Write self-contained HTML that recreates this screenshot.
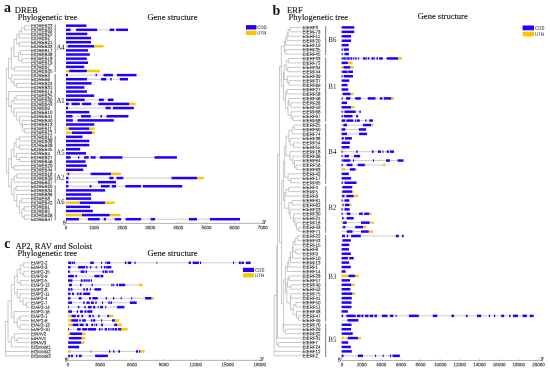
<!DOCTYPE html>
<html><head><meta charset="utf-8"><title>Figure</title><style>
html,body{margin:0;padding:0;background:#fff;}
svg{display:block;}
.ser text{font-family:"Liberation Serif",serif;fill:#111;}
.big{font-weight:bold;font-size:14px;}
.tt{font-size:8.55px;stroke:#111;stroke-width:0.12;}
.cl{font-size:7.2px;fill:#222;text-rendering:geometricPrecision;}
.lab text{font-family:"Liberation Sans",sans-serif;font-size:4.4px;fill:#151515;stroke:#151515;stroke-width:0.08;text-rendering:geometricPrecision;}
.tk text{font-family:"Liberation Sans",sans-serif;font-size:4.5px;fill:#222;stroke:#222;stroke-width:0.08;text-anchor:middle;text-rendering:geometricPrecision;}
.pr{font-family:"Liberation Sans",sans-serif;font-size:5px;fill:#111;stroke:#111;stroke-width:0.12;text-rendering:geometricPrecision;}
.lg{font-family:"Liberation Sans",sans-serif;font-size:4.4px;fill:#333;stroke:#333;stroke-width:0.06;text-rendering:geometricPrecision;}
.b{fill:#2200ff;}
.y{fill:#ffc400;}
.f{fill:#8f80ff;}
.g{stroke:#a8a8a8;stroke-width:0.6;}
.t{stroke:#9a9a9a;stroke-width:0.55;fill:none;}
.cb{stroke:#6a6a6a;stroke-width:0.9;fill:none;}
.ax{stroke:#999;stroke-width:0.75;fill:none;}
</style></head>
<body><svg width="550" height="372" viewBox="0 0 550 372">
<rect width="550" height="372" fill="#fff"/>
<g class="ser">
<text x="4" y="11.7" class="big">a</text><text x="14.8" y="12.8" class="tt">DREB</text>
<text x="17.7" y="19.8" class="tt">Phylogenetic tree</text>
<text x="147.4" y="19.6" class="tt">Gene structure</text>
<text x="272.5" y="15.2" class="big">b</text><text x="287" y="12.9" class="tt">ERF</text>
<text x="288.6" y="19.6" class="tt">Phylogenetic tree</text>
<text x="417.7" y="18.6" class="tt">Gene structure</text>
<text x="4.2" y="247.8" class="big">c</text><text x="15.4" y="248.7" class="tt">AP2, RAV and Soloist</text>
<text x="17.6" y="255.7" class="tt">Phylogenetic tree</text>
<text x="147.6" y="255.5" class="tt">Gene structure</text>
<text transform="translate(56.5 49.6) scale(1 1.12) rotate(0.3)" class="cl" style="font-size:6.7px">A4</text>
<text transform="translate(56.5 103) scale(1 1.12) rotate(0.3)" class="cl" style="font-size:6.7px">A1</text>
<text transform="translate(56.3 154.6) scale(1 1.12) rotate(0.3)" class="cl" style="font-size:6.7px">A5</text>
<text transform="translate(56.3 179.7) scale(1 1.12) rotate(0.3)" class="cl" style="font-size:6.7px">A2</text>
<text transform="translate(56.3 204) scale(1 1.12) rotate(0.3)" class="cl" style="font-size:6.7px">A6</text>
<text transform="translate(328.3 42) scale(1 1.12) rotate(0.3)" class="cl" style="font-size:6.9px">B6</text>
<text transform="translate(328.3 88.7) scale(1 1.12) rotate(0.3)" class="cl" style="font-size:6.9px">B1</text>
<text transform="translate(328.3 154) scale(1 1.12) rotate(0.3)" class="cl" style="font-size:6.9px">B4</text>
<text transform="translate(328.3 209.8) scale(1 1.12) rotate(0.3)" class="cl" style="font-size:6.9px">B2</text>
<text transform="translate(328.3 278.8) scale(1 1.12) rotate(0.3)" class="cl" style="font-size:6.9px">B3</text>
<text transform="translate(328.3 341.8) scale(1 1.12) rotate(0.3)" class="cl" style="font-size:6.9px">B5</text>
</g>
<path d="M55.2 24.5V72.19 M55.2 73.9V133.94 M55.2 135.66V170.99 M55.2 172.71V183.35 M55.2 185.06V220.4 M325.7 26.2V55.23 M325.7 57.27V121.8 M325.7 123.84V183.93 M325.7 185.97V232.75 M325.7 234.79V321.51 M325.7 323.55V357.01" class="cb"/>
<path d="M24.5 25.7H30.2 M24.5 29.82H30.2 M24.5 25.7V29.82 M21.5 27.76H24.5 M21.5 33.93H30.2 M21.5 27.76V33.93 M19.1 30.85H21.5 M19.1 38.05H30.2 M19.1 30.85V38.05 M16.7 34.45H19.1 M19.4 42.17H30.2 M19.4 46.28H30.2 M19.4 42.17V46.28 M16.7 44.23H19.4 M16.7 34.45V44.23 M14 39.34H16.7 M20.5 50.4H30.2 M20.5 54.52H30.2 M20.5 50.4V54.52 M18.5 52.46H20.5 M22 58.64H30.2 M22 62.75H30.2 M22 58.64V62.75 M18.5 60.69H22 M18.5 52.46V60.69 M14 56.58H18.5 M14 39.34V56.58 M11.3 47.96H14 M14.5 66.87H30.2 M14.5 70.99H30.2 M14.5 66.87V70.99 M11.3 68.93H14.5 M11.3 47.96V68.93 M8.6 58.44H11.3 M11.3 75.1H30.2 M14 79.22H30.2 M16.7 83.34H30.2 M16.7 87.45H30.2 M16.7 83.34V87.45 M14 85.4H16.7 M14 79.22V85.4 M11.3 82.31H14 M11.3 75.1V82.31 M8.6 78.71H11.3 M8.6 58.44V78.71 M6.45 68.57H8.6 M8.6 91.57H30.2 M16.1 95.69H30.2 M16.1 99.81H30.2 M16.1 95.69V99.81 M14 97.75H16.1 M14 103.92H30.2 M14 97.75V103.92 M11.3 100.84H14 M14 108.04H30.2 M16.7 112.16H30.2 M19.4 116.27H30.2 M22 120.39H30.2 M22.6 124.51H30.2 M24.7 128.62H30.2 M24.7 132.74H30.2 M24.7 128.62V132.74 M22.6 130.68H24.7 M22.6 124.51V130.68 M22 127.6H22.6 M22 120.39V127.6 M19.4 123.99H22 M19.4 116.27V123.99 M16.7 120.13H19.4 M16.7 112.16V120.13 M14 116.15H16.7 M14 108.04V116.15 M11.3 112.09H14 M11.3 100.84V112.09 M8.6 106.46H11.3 M8.6 91.57V106.46 M6.45 99.02H8.6 M19.4 136.86H30.2 M19.4 140.98H30.2 M19.4 136.86V140.98 M16.1 138.92H19.4 M19.4 145.09H30.2 M19.4 149.21H30.2 M19.4 145.09V149.21 M16.1 147.15H19.4 M16.1 138.92V147.15 M14 143.03H16.1 M16.7 153.33H30.2 M19.4 157.44H30.2 M19.4 161.56H30.2 M19.4 157.44V161.56 M16.7 159.5H19.4 M16.7 153.33V159.5 M14 156.41H16.7 M14 143.03V156.41 M11.3 149.72H14 M14 165.68H30.2 M14 169.79H30.2 M14 165.68V169.79 M11.3 167.74H14 M11.3 149.72V167.74 M8.6 158.73H11.3 M16.7 173.91H30.2 M16.7 178.03H30.2 M16.7 173.91V178.03 M14 175.97H16.7 M14 182.15H30.2 M14 175.97V182.15 M11.3 179.06H14 M16.1 186.26H30.2 M16.1 190.38H30.2 M16.1 186.26V190.38 M14 188.32H16.1 M16.7 194.5H30.2 M21.5 198.61H30.2 M21.5 202.73H30.2 M21.5 198.61V202.73 M19.4 200.67H21.5 M24.2 206.85H30.2 M24.2 210.96H30.2 M24.2 206.85V210.96 M22 208.91H24.2 M24.2 215.08H30.2 M24.2 219.2H30.2 M24.2 215.08V219.2 M22 217.14H24.2 M22 208.91V217.14 M19.4 213.02H22 M19.4 200.67V213.02 M16.7 206.85H19.4 M16.7 194.5V206.85 M14 200.67H16.7 M14 188.32V200.67 M11.3 194.5H14 M11.3 179.06V194.5 M8.6 186.78H11.3 M8.6 158.73V186.78 M6.45 172.75H8.6 M6.45 68.57V172.75" class="t"/>
<path d="M290.3 27.4H301.3 M290.3 31.84H301.3 M290.3 27.4V31.84 M288.1 29.62H290.3 M288.1 36.28H301.3 M288.1 29.62V36.28 M287.1 32.95H288.1 M287.1 40.71H301.3 M287.1 32.95V40.71 M285.4 36.83H287.1 M285.4 45.15H301.3 M285.4 36.83V45.15 M284.4 40.99H285.4 M285.4 49.59H301.3 M285.4 54.03H301.3 M285.4 49.59V54.03 M284.4 51.81H285.4 M284.4 40.99V51.81 M281.3 46.4H284.4 M288.4 58.47H301.3 M288.4 62.9H301.3 M288.4 58.47V62.9 M286.2 60.68H288.4 M287.8 67.34H301.3 M287.8 71.78H301.3 M287.8 67.34V71.78 M286.2 69.56H287.8 M286.2 60.68V69.56 M284.1 65.12H286.2 M287.3 76.22H301.3 M288.9 80.66H301.3 M288.9 85.09H301.3 M288.9 80.66V85.09 M287.3 82.88H288.9 M287.3 76.22V82.88 M284.1 79.55H287.3 M284.1 65.12V79.55 M283.5 72.33H284.1 M286.8 89.53H301.3 M286.8 93.97H301.3 M286.8 89.53V93.97 M285.5 91.75H286.8 M288.9 98.41H301.3 M291 102.85H301.3 M291 107.28H301.3 M291 102.85V107.28 M288.9 105.06H291 M288.9 98.41V105.06 M288 101.74H288.9 M291 111.72H301.3 M292.7 116.16H301.3 M292.7 120.6H301.3 M292.7 116.16V120.6 M291 118.38H292.7 M291 111.72V118.38 M288 115.05H291 M288 101.74V115.05 M285.5 108.39H288 M285.5 91.75V108.39 M283.5 100.07H285.5 M283.5 72.33V100.07 M281.3 86.2H283.5 M281.3 46.4V86.2 M279.5 66.3H281.3 M294.3 125.04H301.3 M294.3 129.47H301.3 M294.3 125.04V129.47 M292.2 127.25H294.3 M292.2 133.91H301.3 M292.2 127.25V133.91 M288.8 130.58H292.2 M290 138.35H301.3 M293.5 142.79H301.3 M293.5 147.23H301.3 M293.5 142.79V147.23 M290 145.01H293.5 M290 138.35V145.01 M288.8 141.68H290 M288.8 130.58V141.68 M286.1 136.13H288.8 M290.1 151.66H301.3 M292.8 156.1H301.3 M294.5 160.54H301.3 M296 164.98H301.3 M296 169.42H301.3 M296 164.98V169.42 M294.5 167.2H296 M294.5 160.54V167.2 M292.8 163.87H294.5 M292.8 156.1V163.87 M290.1 159.99H292.8 M290.1 151.66V159.99 M286.1 155.82H290.1 M286.1 136.13V155.82 M284.7 145.98H286.1 M288.1 173.85H301.3 M290.8 178.29H301.3 M290.8 182.73H301.3 M290.8 178.29V182.73 M288.1 180.51H290.8 M288.1 173.85V180.51 M284.7 177.18H288.1 M284.7 145.98V177.18 M283.4 161.58H284.7 M288.8 187.17H301.3 M288.8 191.61H301.3 M288.8 187.17V191.61 M286 189.39H288.8 M286 196.04H301.3 M286 189.39V196.04 M284.7 192.72H286 M292.1 200.48H301.3 M292.1 204.92H301.3 M292.1 200.48V204.92 M288.8 202.7H292.1 M290.1 209.36H301.3 M293.5 213.8H301.3 M295 218.23H301.3 M296.5 222.67H301.3 M299 227.11H301.3 M299 231.55H301.3 M299 227.11V231.55 M296.5 229.33H299 M296.5 222.67V229.33 M295 226H296.5 M295 218.23V226 M293.5 222.12H295 M293.5 213.8V222.12 M290.1 217.96H293.5 M290.1 209.36V217.96 M288.8 213.66H290.1 M288.8 202.7V213.66 M284.7 208.18H288.8 M284.7 192.72V208.18 M283.4 200.45H284.7 M283.4 161.58V200.45 M281.6 181.01H283.4 M297.4 235.99H301.3 M297.4 240.42H301.3 M297.4 235.99V240.42 M295 238.2H297.4 M295 244.86H301.3 M295 238.2V244.86 M293 241.53H295 M295.8 249.3H301.3 M295.8 253.74H301.3 M295.8 249.3V253.74 M293 251.52H295.8 M293 241.53V251.52 M292.5 246.53H293 M292.5 258.18H301.3 M292.5 246.53V258.18 M290.5 252.35H292.5 M290.5 262.61H301.3 M290.5 252.35V262.61 M288.9 257.48H290.5 M288.9 267.05H301.3 M288.9 257.48V267.05 M287.3 262.27H288.9 M287.3 271.49H301.3 M287.3 262.27V271.49 M285.5 266.88H287.3 M288.9 275.93H301.3 M288.9 280.37H301.3 M288.9 275.93V280.37 M287.7 278.15H288.9 M291 284.8H301.3 M291 289.24H301.3 M291 284.8V289.24 M287.7 287.02H291 M287.7 278.15V287.02 M286.8 282.58H287.7 M291 293.68H301.3 M291 298.12H301.3 M291 293.68V298.12 M290.5 295.9H291 M295.9 302.56H301.3 M295.9 306.99H301.3 M295.9 302.56V306.99 M293.2 304.77H295.9 M296.5 311.43H301.3 M298.6 315.87H301.3 M298.6 320.31H301.3 M298.6 315.87V320.31 M296.5 318.09H298.6 M296.5 311.43V318.09 M293.2 314.76H296.5 M293.2 304.77V314.76 M290.5 309.77H293.2 M290.5 295.9V309.77 M286.8 302.83H290.5 M286.8 282.58V302.83 M285.5 292.71H286.8 M285.5 266.88V292.71 M283.6 279.79H285.5 M283.2 324.75H301.3 M285.4 329.18H301.3 M285.4 333.62H301.3 M285.4 329.18V333.62 M283.2 331.4H285.4 M283.2 324.75V331.4 M283.6 328.07H283.2 M283.6 279.79V328.07 M281.6 303.93H283.6 M281.6 181.01V303.93 M279.5 242.47H281.6 M279.5 66.3V242.47 M277.5 154.39H279.5 M277.5 338.06H301.3 M277.5 154.39V338.06 M276.4 246.22H277.5 M278.4 342.5H301.3 M278.4 346.94H301.3 M278.4 342.5V346.94 M276.4 344.72H278.4 M276.4 246.22V344.72 M274.1 295.47H276.4 M274.1 351.37H301.3 M274.1 355.81H301.3 M274.1 295.47V355.81" class="t"/>
<path d="M23.7 262.8H29.6 M23.7 267.23H29.6 M23.7 262.8V267.23 M20.4 265.02H23.7 M23.7 271.67H29.6 M23.7 276.1H29.6 M23.7 271.67V276.1 M20.4 273.88H23.7 M20.4 265.02V273.88 M17.2 269.45H20.4 M20.4 280.53H29.6 M20.4 284.97H29.6 M20.4 280.53V284.97 M17.2 282.75H20.4 M17.2 269.45V282.75 M14.5 276.1H17.2 M17.2 289.4H29.6 M19.9 293.83H29.6 M23.1 298.26H29.6 M26.3 302.7H29.6 M26.3 307.13H29.6 M26.3 302.7V307.13 M23.1 304.91H26.3 M23.1 298.26V304.91 M19.9 301.59H23.1 M19.9 293.83V301.59 M17.2 297.71H19.9 M17.2 289.4V297.71 M14.5 293.55H17.2 M14.5 276.1V293.55 M11.3 284.83H14.5 M14 311.56H29.6 M19.9 316H29.6 M19.9 320.43H29.6 M19.9 316V320.43 M17.2 318.21H19.9 M19.9 324.86H29.6 M19.9 329.3H29.6 M19.9 324.86V329.3 M17.2 327.08H19.9 M17.2 318.21V327.08 M14 322.65H17.2 M14 311.56V322.65 M11.3 317.1H14 M11.3 284.83V317.1 M8 300.97H11.3 M14.5 333.73H29.6 M17.2 338.16H29.6 M17.2 342.59H29.6 M17.2 338.16V342.59 M14.5 340.38H17.2 M14.5 333.73V340.38 M11.3 337.05H14.5 M11.3 347.03H29.6 M11.3 337.05V347.03 M8 342.04H11.3 M8 300.97V342.04 M5.4 321.5H8 M5.4 351.46H29.6 M5.4 355.89H29.6 M5.4 321.5V355.89" class="t"/>
<g class="lab">
<text transform="translate(31.1 27.43) scale(1 1.1) rotate(0.3)">EtDREB23</text>
<text transform="translate(31.1 31.55) scale(1 1.1) rotate(0.3)">EtDREB32</text>
<text transform="translate(31.1 35.67) scale(1 1.1) rotate(0.3)">EtDREB22</text>
<text transform="translate(31.1 39.78) scale(1 1.1) rotate(0.3)">EtDREB2</text>
<text transform="translate(31.1 43.9) scale(1 1.1) rotate(0.3)">EtDREB21</text>
<text transform="translate(31.1 48.02) scale(1 1.1) rotate(0.3)">EtDREB33</text>
<text transform="translate(31.1 52.13) scale(1 1.1) rotate(0.3)">EtDREB17</text>
<text transform="translate(31.1 56.25) scale(1 1.1) rotate(0.3)">EtDREB48</text>
<text transform="translate(31.1 60.37) scale(1 1.1) rotate(0.3)">EtDREB18</text>
<text transform="translate(31.1 64.49) scale(1 1.1) rotate(0.3)">EtDREB19</text>
<text transform="translate(31.1 68.6) scale(1 1.1) rotate(0.3)">EtDREB7</text>
<text transform="translate(31.1 72.72) scale(1 1.1) rotate(0.3)">EtDREB35</text>
<text transform="translate(31.1 76.84) scale(1 1.1) rotate(0.3)">EtDREB3</text>
<text transform="translate(31.1 80.95) scale(1 1.1) rotate(0.3)">EtDREB6</text>
<text transform="translate(31.1 85.07) scale(1 1.1) rotate(0.3)">EtDREB24</text>
<text transform="translate(31.1 89.19) scale(1 1.1) rotate(0.3)">EtDREB31</text>
<text transform="translate(31.1 93.3) scale(1 1.1) rotate(0.3)">EtDREB14</text>
<text transform="translate(31.1 97.42) scale(1 1.1) rotate(0.3)">EtDREB25</text>
<text transform="translate(31.1 101.54) scale(1 1.1) rotate(0.3)">EtDREB30</text>
<text transform="translate(31.1 105.66) scale(1 1.1) rotate(0.3)">EtDREB43</text>
<text transform="translate(31.1 109.77) scale(1 1.1) rotate(0.3)">EtDREB9</text>
<text transform="translate(31.1 113.89) scale(1 1.1) rotate(0.3)">EtDREB10</text>
<text transform="translate(31.1 118.01) scale(1 1.1) rotate(0.3)">EtDREB41</text>
<text transform="translate(31.1 122.12) scale(1 1.1) rotate(0.3)">EtDREB40</text>
<text transform="translate(31.1 126.24) scale(1 1.1) rotate(0.3)">EtDREB13</text>
<text transform="translate(31.1 130.36) scale(1 1.1) rotate(0.3)">EtDREB11</text>
<text transform="translate(31.1 134.47) scale(1 1.1) rotate(0.3)">EtDREB12</text>
<text transform="translate(31.1 138.59) scale(1 1.1) rotate(0.3)">EtDREB15</text>
<text transform="translate(31.1 142.71) scale(1 1.1) rotate(0.3)">EtDREB38</text>
<text transform="translate(31.1 146.83) scale(1 1.1) rotate(0.3)">EtDREB28</text>
<text transform="translate(31.1 150.94) scale(1 1.1) rotate(0.3)">EtDREB45</text>
<text transform="translate(31.1 155.06) scale(1 1.1) rotate(0.3)">EtDREB4</text>
<text transform="translate(31.1 159.18) scale(1 1.1) rotate(0.3)">EtDREB27</text>
<text transform="translate(31.1 163.29) scale(1 1.1) rotate(0.3)">EtDREB46</text>
<text transform="translate(31.1 167.41) scale(1 1.1) rotate(0.3)">EtDREB29</text>
<text transform="translate(31.1 171.53) scale(1 1.1) rotate(0.3)">EtDREB44</text>
<text transform="translate(31.1 175.64) scale(1 1.1) rotate(0.3)">EtDREB16</text>
<text transform="translate(31.1 179.76) scale(1 1.1) rotate(0.3)">EtDREB39</text>
<text transform="translate(31.1 183.88) scale(1 1.1) rotate(0.3)">EtDREB37</text>
<text transform="translate(31.1 188) scale(1 1.1) rotate(0.3)">EtDREB20</text>
<text transform="translate(31.1 192.11) scale(1 1.1) rotate(0.3)">EtDREB34</text>
<text transform="translate(31.1 196.23) scale(1 1.1) rotate(0.3)">EtDREB36</text>
<text transform="translate(31.1 200.35) scale(1 1.1) rotate(0.3)">EtDREB8</text>
<text transform="translate(31.1 204.46) scale(1 1.1) rotate(0.3)">EtDREB42</text>
<text transform="translate(31.1 208.58) scale(1 1.1) rotate(0.3)">EtDREB1</text>
<text transform="translate(31.1 212.7) scale(1 1.1) rotate(0.3)">EtDREB5</text>
<text transform="translate(31.1 216.81) scale(1 1.1) rotate(0.3)">EtDREB26</text>
<text transform="translate(31.1 220.93) scale(1 1.1) rotate(0.3)">EtDREB47</text>
<text transform="translate(302.6 29.13) scale(1 1.1) rotate(0.3)">EtERF3</text>
<text transform="translate(302.6 33.57) scale(1 1.1) rotate(0.3)">EtERF73</text>
<text transform="translate(302.6 38.01) scale(1 1.1) rotate(0.3)">EtERF11</text>
<text transform="translate(302.6 42.45) scale(1 1.1) rotate(0.3)">EtERF20</text>
<text transform="translate(302.6 46.88) scale(1 1.1) rotate(0.3)">EtERF19</text>
<text transform="translate(302.6 51.32) scale(1 1.1) rotate(0.3)">EtERF35</text>
<text transform="translate(302.6 55.76) scale(1 1.1) rotate(0.3)">EtERF45</text>
<text transform="translate(302.6 60.2) scale(1 1.1) rotate(0.3)">EtERF33</text>
<text transform="translate(302.6 64.64) scale(1 1.1) rotate(0.3)">EtERF72</text>
<text transform="translate(302.6 69.07) scale(1 1.1) rotate(0.3)">EtERF34</text>
<text transform="translate(302.6 73.51) scale(1 1.1) rotate(0.3)">EtERF44</text>
<text transform="translate(302.6 77.95) scale(1 1.1) rotate(0.3)">EtERF39</text>
<text transform="translate(302.6 82.39) scale(1 1.1) rotate(0.3)">EtERF37</text>
<text transform="translate(302.6 86.83) scale(1 1.1) rotate(0.3)">EtERF69</text>
<text transform="translate(302.6 91.26) scale(1 1.1) rotate(0.3)">EtERF27</text>
<text transform="translate(302.6 95.7) scale(1 1.1) rotate(0.3)">EtERF58</text>
<text transform="translate(302.6 100.14) scale(1 1.1) rotate(0.3)">EtERF46</text>
<text transform="translate(302.6 104.58) scale(1 1.1) rotate(0.3)">EtERF26</text>
<text transform="translate(302.6 109.02) scale(1 1.1) rotate(0.3)">EtERF59</text>
<text transform="translate(302.6 113.45) scale(1 1.1) rotate(0.3)">EtERF66</text>
<text transform="translate(302.6 117.89) scale(1 1.1) rotate(0.3)">EtERF67</text>
<text transform="translate(302.6 122.33) scale(1 1.1) rotate(0.3)">EtERF68</text>
<text transform="translate(302.6 126.77) scale(1 1.1) rotate(0.3)">EtERF25</text>
<text transform="translate(302.6 131.21) scale(1 1.1) rotate(0.3)">EtERF60</text>
<text transform="translate(302.6 135.64) scale(1 1.1) rotate(0.3)">EtERF74</text>
<text transform="translate(302.6 140.08) scale(1 1.1) rotate(0.3)">EtERF38</text>
<text transform="translate(302.6 144.52) scale(1 1.1) rotate(0.3)">EtERF54</text>
<text transform="translate(302.6 148.96) scale(1 1.1) rotate(0.3)">EtERF55</text>
<text transform="translate(302.6 153.4) scale(1 1.1) rotate(0.3)">EtERF18</text>
<text transform="translate(302.6 157.83) scale(1 1.1) rotate(0.3)">EtERF36</text>
<text transform="translate(302.6 162.27) scale(1 1.1) rotate(0.3)">EtERF64</text>
<text transform="translate(302.6 166.71) scale(1 1.1) rotate(0.3)">EtERF56</text>
<text transform="translate(302.6 171.15) scale(1 1.1) rotate(0.3)">EtERF63</text>
<text transform="translate(302.6 175.59) scale(1 1.1) rotate(0.3)">EtERF42</text>
<text transform="translate(302.6 180.02) scale(1 1.1) rotate(0.3)">EtERF17</text>
<text transform="translate(302.6 184.46) scale(1 1.1) rotate(0.3)">EtERF65</text>
<text transform="translate(302.6 188.9) scale(1 1.1) rotate(0.3)">EtERF4</text>
<text transform="translate(302.6 193.34) scale(1 1.1) rotate(0.3)">EtERF5</text>
<text transform="translate(302.6 197.78) scale(1 1.1) rotate(0.3)">EtERF6</text>
<text transform="translate(302.6 202.21) scale(1 1.1) rotate(0.3)">EtERF61</text>
<text transform="translate(302.6 206.65) scale(1 1.1) rotate(0.3)">EtERF62</text>
<text transform="translate(302.6 211.09) scale(1 1.1) rotate(0.3)">EtERF23</text>
<text transform="translate(302.6 215.53) scale(1 1.1) rotate(0.3)">EtERF30</text>
<text transform="translate(302.6 219.97) scale(1 1.1) rotate(0.3)">EtERF21</text>
<text transform="translate(302.6 224.4) scale(1 1.1) rotate(0.3)">EtERF16</text>
<text transform="translate(302.6 228.84) scale(1 1.1) rotate(0.3)">EtERF43</text>
<text transform="translate(302.6 233.28) scale(1 1.1) rotate(0.3)">EtERF71</text>
<text transform="translate(302.6 237.72) scale(1 1.1) rotate(0.3)">EtERF22</text>
<text transform="translate(302.6 242.16) scale(1 1.1) rotate(0.3)">EtERF53</text>
<text transform="translate(302.6 246.59) scale(1 1.1) rotate(0.3)">EtERF15</text>
<text transform="translate(302.6 251.03) scale(1 1.1) rotate(0.3)">EtERF8</text>
<text transform="translate(302.6 255.47) scale(1 1.1) rotate(0.3)">EtERF9</text>
<text transform="translate(302.6 259.91) scale(1 1.1) rotate(0.3)">EtERF10</text>
<text transform="translate(302.6 264.35) scale(1 1.1) rotate(0.3)">EtERF13</text>
<text transform="translate(302.6 268.78) scale(1 1.1) rotate(0.3)">EtERF1</text>
<text transform="translate(302.6 273.22) scale(1 1.1) rotate(0.3)">EtERF14</text>
<text transform="translate(302.6 277.66) scale(1 1.1) rotate(0.3)">EtERF28</text>
<text transform="translate(302.6 282.1) scale(1 1.1) rotate(0.3)">EtERF57</text>
<text transform="translate(302.6 286.54) scale(1 1.1) rotate(0.3)">EtERF40</text>
<text transform="translate(302.6 290.97) scale(1 1.1) rotate(0.3)">EtERF52</text>
<text transform="translate(302.6 295.41) scale(1 1.1) rotate(0.3)">EtERF75</text>
<text transform="translate(302.6 299.85) scale(1 1.1) rotate(0.3)">EtERF41</text>
<text transform="translate(302.6 304.29) scale(1 1.1) rotate(0.3)">EtERF50</text>
<text transform="translate(302.6 308.73) scale(1 1.1) rotate(0.3)">EtERF51</text>
<text transform="translate(302.6 313.16) scale(1 1.1) rotate(0.3)">EtERF48</text>
<text transform="translate(302.6 317.6) scale(1 1.1) rotate(0.3)">EtERF47</text>
<text transform="translate(302.6 322.04) scale(1 1.1) rotate(0.3)">EtERF49</text>
<text transform="translate(302.6 326.48) scale(1 1.1) rotate(0.3)">EtERF70</text>
<text transform="translate(302.6 330.92) scale(1 1.1) rotate(0.3)">EtERF29</text>
<text transform="translate(302.6 335.35) scale(1 1.1) rotate(0.3)">EtERF32</text>
<text transform="translate(302.6 339.79) scale(1 1.1) rotate(0.3)">EtERF31</text>
<text transform="translate(302.6 344.23) scale(1 1.1) rotate(0.3)">EtERF7</text>
<text transform="translate(302.6 348.67) scale(1 1.1) rotate(0.3)">EtERF24</text>
<text transform="translate(302.6 353.11) scale(1 1.1) rotate(0.3)">EtERF12</text>
<text transform="translate(302.6 357.54) scale(1 1.1) rotate(0.3)">EtERF2</text>
<text transform="translate(31 264.53) scale(1 1.1) rotate(0.3)">EtAP2-2</text>
<text transform="translate(31 268.97) scale(1 1.1) rotate(0.3)">EtAP2-3</text>
<text transform="translate(31 273.4) scale(1 1.1) rotate(0.3)">EtAP2-15</text>
<text transform="translate(31 277.83) scale(1 1.1) rotate(0.3)">EtAP2-9</text>
<text transform="translate(31 282.26) scale(1 1.1) rotate(0.3)">EtAP2-5</text>
<text transform="translate(31 286.7) scale(1 1.1) rotate(0.3)">EtAP2-12</text>
<text transform="translate(31 291.13) scale(1 1.1) rotate(0.3)">EtAP2-8</text>
<text transform="translate(31 295.56) scale(1 1.1) rotate(0.3)">EtAP2-11</text>
<text transform="translate(31 300) scale(1 1.1) rotate(0.3)">EtAP2-4</text>
<text transform="translate(31 304.43) scale(1 1.1) rotate(0.3)">EtAP2-7</text>
<text transform="translate(31 308.86) scale(1 1.1) rotate(0.3)">EtAP2-14</text>
<text transform="translate(31 313.3) scale(1 1.1) rotate(0.3)">EtAP2-16</text>
<text transform="translate(31 317.73) scale(1 1.1) rotate(0.3)">EtAP2-1</text>
<text transform="translate(31 322.16) scale(1 1.1) rotate(0.3)">EtAP2-6</text>
<text transform="translate(31 326.59) scale(1 1.1) rotate(0.3)">EtAP2-13</text>
<text transform="translate(31 331.03) scale(1 1.1) rotate(0.3)">EtAP2-10</text>
<text transform="translate(31 335.46) scale(1 1.1) rotate(0.3)">EtRAV2</text>
<text transform="translate(31 339.89) scale(1 1.1) rotate(0.3)">EtRAV1</text>
<text transform="translate(31 344.33) scale(1 1.1) rotate(0.3)">EtRAV3</text>
<text transform="translate(31 348.76) scale(1 1.1) rotate(0.3)">EtSoloist1</text>
<text transform="translate(31 353.19) scale(1 1.1) rotate(0.3)">EtSoloist2</text>
<text transform="translate(31 357.63) scale(1 1.1) rotate(0.3)">EtSoloist3</text>
</g>
<rect x="66" y="24.45" width="20.5" height="2.5" class="b"/>
<line x1="66" y1="29.82" x2="128" y2="29.82" class="g"/>
<rect x="66" y="28.57" width="4.6" height="2.5" class="b"/>
<rect x="76.1" y="28.57" width="21.1" height="2.5" class="b"/>
<rect x="109.7" y="28.57" width="4.5" height="2.5" class="b"/>
<rect x="116.1" y="28.57" width="11.9" height="2.5" class="b"/>
<rect x="66" y="32.68" width="21.3" height="2.5" class="b"/>
<rect x="66" y="36.8" width="25" height="2.5" class="b"/>
<rect x="66" y="40.92" width="25" height="2.5" class="b"/>
<line x1="66" y1="46.28" x2="103.5" y2="46.28" class="g"/>
<rect x="66" y="45.03" width="1.7" height="2.5" class="y"/>
<rect x="67.7" y="45.03" width="26.5" height="2.5" class="b"/>
<rect x="94.2" y="45.03" width="9.3" height="2.5" class="y"/>
<rect x="66" y="49.15" width="22" height="2.5" class="b"/>
<rect x="66" y="53.27" width="23.8" height="2.5" class="b"/>
<rect x="66" y="57.39" width="20.9" height="2.5" class="b"/>
<rect x="66" y="61.5" width="22" height="2.5" class="b"/>
<rect x="66" y="65.62" width="18.2" height="2.5" class="b"/>
<line x1="66" y1="70.99" x2="100.2" y2="70.99" class="g"/>
<rect x="66" y="69.74" width="3.3" height="2.5" class="y"/>
<rect x="69.3" y="69.74" width="17.6" height="2.5" class="b"/>
<rect x="86.9" y="69.74" width="13.3" height="2.5" class="y"/>
<line x1="66" y1="75.1" x2="136.5" y2="75.1" class="g"/>
<rect x="66" y="73.85" width="2" height="2.5" class="b"/>
<rect x="95.6" y="73.85" width="1.3" height="2.5" class="b"/>
<rect x="103.5" y="73.85" width="9.4" height="2.5" class="b"/>
<rect x="116.9" y="73.85" width="19.6" height="2.5" class="b"/>
<line x1="66" y1="79.22" x2="128" y2="79.22" class="g"/>
<rect x="66" y="77.97" width="20.9" height="2.5" class="b"/>
<rect x="101.1" y="77.97" width="5.1" height="2.5" class="b"/>
<rect x="110.2" y="77.97" width="1.4" height="2.5" class="b"/>
<rect x="119.8" y="77.97" width="8.2" height="2.5" class="b"/>
<rect x="66" y="82.09" width="25.6" height="2.5" class="b"/>
<rect x="66" y="86.2" width="18.4" height="2.5" class="b"/>
<rect x="66" y="90.32" width="20.9" height="2.5" class="b"/>
<rect x="66" y="94.44" width="28.2" height="2.5" class="b"/>
<line x1="66" y1="99.81" x2="113.5" y2="99.81" class="g"/>
<rect x="66" y="98.56" width="18.7" height="2.5" class="b"/>
<rect x="98.9" y="98.56" width="4.9" height="2.5" class="b"/>
<rect x="107.8" y="98.56" width="5.7" height="2.5" class="b"/>
<line x1="66" y1="103.92" x2="135.6" y2="103.92" class="g"/>
<rect x="66" y="102.67" width="2.7" height="2.5" class="b"/>
<rect x="71.5" y="102.67" width="8.3" height="2.5" class="b"/>
<rect x="82" y="102.67" width="9.1" height="2.5" class="b"/>
<rect x="98.4" y="102.67" width="30.9" height="2.5" class="b"/>
<rect x="129.3" y="102.67" width="6.3" height="2.5" class="y"/>
<line x1="66" y1="108.04" x2="133.8" y2="108.04" class="g"/>
<rect x="66" y="106.79" width="2" height="2.5" class="b"/>
<rect x="105.6" y="106.79" width="5.1" height="2.5" class="b"/>
<rect x="112.9" y="106.79" width="20.9" height="2.5" class="b"/>
<rect x="66" y="110.91" width="23.3" height="2.5" class="b"/>
<line x1="66" y1="116.27" x2="128.4" y2="116.27" class="g"/>
<rect x="66" y="115.02" width="6.5" height="2.5" class="b"/>
<rect x="81.1" y="115.02" width="9.6" height="2.5" class="b"/>
<rect x="100.5" y="115.02" width="1.5" height="2.5" class="b"/>
<rect x="106.5" y="115.02" width="21.9" height="2.5" class="b"/>
<line x1="66" y1="120.39" x2="113.8" y2="120.39" class="g"/>
<rect x="66" y="119.14" width="6.9" height="2.5" class="b"/>
<rect x="77.5" y="119.14" width="36.3" height="2.5" class="b"/>
<rect x="66" y="123.26" width="28.2" height="2.5" class="b"/>
<line x1="66" y1="128.62" x2="94.4" y2="128.62" class="g"/>
<rect x="66" y="127.38" width="2.9" height="2.5" class="y"/>
<rect x="68.9" y="127.38" width="20.4" height="2.5" class="b"/>
<rect x="89.3" y="127.38" width="5.1" height="2.5" class="y"/>
<line x1="66" y1="132.74" x2="94.7" y2="132.74" class="g"/>
<rect x="66" y="131.49" width="6" height="2.5" class="y"/>
<rect x="72" y="131.49" width="20" height="2.5" class="b"/>
<rect x="92" y="131.49" width="2.7" height="2.5" class="y"/>
<rect x="66" y="135.61" width="16.5" height="2.5" class="b"/>
<rect x="66" y="139.73" width="23.3" height="2.5" class="b"/>
<rect x="66" y="143.84" width="23.3" height="2.5" class="b"/>
<rect x="66" y="147.96" width="14.2" height="2.5" class="b"/>
<rect x="66" y="152.08" width="20" height="2.5" class="b"/>
<line x1="66" y1="157.44" x2="176.9" y2="157.44" class="g"/>
<rect x="66" y="156.19" width="4.7" height="2.5" class="b"/>
<rect x="78" y="156.19" width="1.3" height="2.5" class="b"/>
<rect x="84.2" y="156.19" width="4.5" height="2.5" class="b"/>
<rect x="90.7" y="156.19" width="4.9" height="2.5" class="b"/>
<rect x="99.8" y="156.19" width="22.6" height="2.5" class="b"/>
<rect x="154.5" y="156.19" width="22.4" height="2.5" class="b"/>
<rect x="66" y="160.31" width="19.6" height="2.5" class="b"/>
<rect x="66" y="164.43" width="20.9" height="2.5" class="b"/>
<rect x="66" y="168.54" width="17.3" height="2.5" class="b"/>
<line x1="66" y1="173.91" x2="121.1" y2="173.91" class="g"/>
<rect x="66" y="172.66" width="1.8" height="2.5" class="y"/>
<rect x="67.8" y="172.66" width="1.4" height="2.5" class="b"/>
<rect x="90.7" y="172.66" width="20.4" height="2.5" class="b"/>
<rect x="111.1" y="172.66" width="10" height="2.5" class="y"/>
<line x1="66" y1="178.03" x2="203.8" y2="178.03" class="g"/>
<rect x="66" y="176.78" width="2.4" height="2.5" class="b"/>
<rect x="109.3" y="176.78" width="4.2" height="2.5" class="b"/>
<rect x="116.5" y="176.78" width="6.8" height="2.5" class="b"/>
<rect x="171.5" y="176.78" width="25.8" height="2.5" class="b"/>
<rect x="197.3" y="176.78" width="6.5" height="2.5" class="y"/>
<line x1="66" y1="182.15" x2="116" y2="182.15" class="g"/>
<rect x="66" y="180.9" width="2.4" height="2.5" class="b"/>
<rect x="98" y="180.9" width="18" height="2.5" class="b"/>
<line x1="66" y1="186.26" x2="182.2" y2="186.26" class="g"/>
<rect x="66" y="185.01" width="2.4" height="2.5" class="b"/>
<rect x="89.6" y="185.01" width="1.8" height="2.5" class="b"/>
<rect x="101" y="185.01" width="8.6" height="2.5" class="b"/>
<rect x="111.8" y="185.01" width="4.2" height="2.5" class="b"/>
<rect x="125.3" y="185.01" width="15.7" height="2.5" class="b"/>
<rect x="142.9" y="185.01" width="39.3" height="2.5" class="b"/>
<rect x="66" y="189.13" width="39.1" height="2.5" class="b"/>
<rect x="66" y="193.25" width="25.1" height="2.5" class="b"/>
<rect x="66" y="197.36" width="25.1" height="2.5" class="b"/>
<line x1="66" y1="202.73" x2="114.7" y2="202.73" class="g"/>
<rect x="66" y="201.48" width="13.8" height="2.5" class="y"/>
<rect x="79.8" y="201.48" width="25.3" height="2.5" class="b"/>
<rect x="105.1" y="201.48" width="9.6" height="2.5" class="y"/>
<rect x="66" y="205.6" width="24.2" height="2.5" class="b"/>
<rect x="66" y="209.71" width="26.9" height="2.5" class="b"/>
<line x1="66" y1="215.08" x2="120.5" y2="215.08" class="g"/>
<rect x="66" y="213.83" width="16" height="2.5" class="y"/>
<rect x="82" y="213.83" width="27.8" height="2.5" class="b"/>
<rect x="109.8" y="213.83" width="10.7" height="2.5" class="y"/>
<line x1="66" y1="219.2" x2="240" y2="219.2" class="g"/>
<rect x="66" y="217.95" width="12.9" height="2.5" class="b"/>
<rect x="88" y="217.95" width="11.8" height="2.5" class="b"/>
<rect x="103.8" y="217.95" width="2.2" height="2.5" class="b"/>
<rect x="114.7" y="217.95" width="6.4" height="2.5" class="b"/>
<rect x="125.6" y="217.95" width="15.5" height="2.5" class="b"/>
<rect x="150.7" y="217.95" width="4.4" height="2.5" class="b"/>
<rect x="189" y="217.95" width="8" height="2.5" class="b"/>
<rect x="210" y="217.95" width="30" height="2.5" class="b"/>
<rect x="341.6" y="26.15" width="12.7" height="2.5" class="b"/>
<rect x="341.6" y="30.59" width="12.7" height="2.5" class="b"/>
<rect x="341.6" y="35.03" width="9.5" height="2.5" class="b"/>
<rect x="341.6" y="39.46" width="9.5" height="2.5" class="b"/>
<rect x="341.6" y="43.9" width="7" height="2.5" class="b"/>
<line x1="341.6" y1="49.59" x2="348.9" y2="49.59" class="g"/>
<rect x="341.6" y="48.34" width="1.1" height="2.5" class="b"/>
<rect x="343.8" y="48.34" width="5.1" height="2.5" class="b"/>
<line x1="341.6" y1="54.03" x2="348.9" y2="54.03" class="g"/>
<rect x="341.6" y="52.78" width="1" height="2.5" class="b"/>
<rect x="344.5" y="52.78" width="4.4" height="2.5" class="b"/>
<line x1="341.6" y1="58.47" x2="402" y2="58.47" class="g"/>
<rect x="341.6" y="57.22" width="1" height="2.5" class="b"/>
<rect x="342.8" y="57.22" width="1" height="2.5" class="b"/>
<rect x="344.1" y="57.22" width="1" height="2.5" class="b"/>
<rect x="345.4" y="57.22" width="1" height="2.5" class="b"/>
<rect x="346.7" y="57.22" width="1" height="2.5" class="b"/>
<rect x="348" y="57.22" width="1" height="2.5" class="b"/>
<rect x="349.3" y="57.22" width="1" height="2.5" class="b"/>
<rect x="350.7" y="57.22" width="1.6" height="2.5" class="b"/>
<rect x="353.3" y="57.22" width="1" height="2.5" class="b"/>
<rect x="355.2" y="57.22" width="1.3" height="2.5" class="b"/>
<rect x="357.9" y="57.22" width="1" height="2.5" class="b"/>
<rect x="363" y="57.22" width="1.9" height="2.5" class="b"/>
<rect x="365.3" y="57.22" width="1.4" height="2.5" class="b"/>
<rect x="367.8" y="57.22" width="1.5" height="2.5" class="b"/>
<rect x="371.5" y="57.22" width="1.8" height="2.5" class="b"/>
<rect x="373.6" y="57.22" width="1.2" height="2.5" class="b"/>
<rect x="376.5" y="57.22" width="1.5" height="2.5" class="b"/>
<rect x="379.2" y="57.22" width="3.5" height="2.5" class="b"/>
<rect x="386.7" y="57.22" width="11.3" height="2.5" class="b"/>
<rect x="398" y="57.22" width="4" height="2.5" class="y"/>
<line x1="341.6" y1="62.9" x2="352.5" y2="62.9" class="g"/>
<rect x="341.6" y="61.65" width="6.3" height="2.5" class="b"/>
<rect x="347.9" y="61.65" width="4.6" height="2.5" class="y"/>
<line x1="341.6" y1="67.34" x2="353.7" y2="67.34" class="g"/>
<rect x="341.6" y="66.09" width="1.9" height="2.5" class="y"/>
<rect x="343.5" y="66.09" width="6.9" height="2.5" class="b"/>
<rect x="350.4" y="66.09" width="3.3" height="2.5" class="y"/>
<line x1="341.6" y1="71.78" x2="353" y2="71.78" class="g"/>
<rect x="341.6" y="70.53" width="1" height="2.5" class="b"/>
<rect x="342.8" y="70.53" width="4.7" height="2.5" class="b"/>
<rect x="348.2" y="70.53" width="4.8" height="2.5" class="b"/>
<line x1="341.6" y1="76.22" x2="353" y2="76.22" class="g"/>
<rect x="341.6" y="74.97" width="1" height="2.5" class="b"/>
<rect x="343.8" y="74.97" width="9.2" height="2.5" class="b"/>
<rect x="341.6" y="79.41" width="7.7" height="2.5" class="b"/>
<rect x="341.6" y="83.84" width="5.9" height="2.5" class="b"/>
<rect x="341.6" y="88.28" width="6.6" height="2.5" class="b"/>
<line x1="341.6" y1="93.97" x2="353.3" y2="93.97" class="g"/>
<rect x="341.6" y="92.72" width="1.1" height="2.5" class="y"/>
<rect x="342.7" y="92.72" width="8" height="2.5" class="b"/>
<rect x="350.7" y="92.72" width="2.6" height="2.5" class="y"/>
<line x1="341.6" y1="98.41" x2="394" y2="98.41" class="g"/>
<rect x="341.6" y="97.16" width="1" height="2.5" class="b"/>
<rect x="346" y="97.16" width="4.4" height="2.5" class="b"/>
<rect x="355.2" y="97.16" width="5.6" height="2.5" class="b"/>
<rect x="367.8" y="97.16" width="7.7" height="2.5" class="b"/>
<rect x="379.9" y="97.16" width="2.5" height="2.5" class="b"/>
<rect x="383.8" y="97.16" width="7.6" height="2.5" class="b"/>
<rect x="391.4" y="97.16" width="2.6" height="2.5" class="y"/>
<rect x="341.6" y="101.6" width="5.4" height="2.5" class="b"/>
<line x1="341.6" y1="107.28" x2="354.4" y2="107.28" class="g"/>
<rect x="341.6" y="106.03" width="9.5" height="2.5" class="b"/>
<rect x="351.1" y="106.03" width="3.3" height="2.5" class="y"/>
<line x1="341.6" y1="111.72" x2="360.8" y2="111.72" class="g"/>
<rect x="341.6" y="110.47" width="1" height="2.5" class="b"/>
<rect x="344.5" y="110.47" width="11.2" height="2.5" class="b"/>
<rect x="359.4" y="110.47" width="1.4" height="2.5" class="b"/>
<line x1="341.6" y1="116.16" x2="358.1" y2="116.16" class="g"/>
<rect x="341.6" y="114.91" width="1.2" height="2.5" class="b"/>
<rect x="343.8" y="114.91" width="8.7" height="2.5" class="b"/>
<rect x="356.2" y="114.91" width="1.9" height="2.5" class="b"/>
<line x1="341.6" y1="120.6" x2="372.9" y2="120.6" class="g"/>
<rect x="341.6" y="119.35" width="3.7" height="2.5" class="b"/>
<rect x="346.4" y="119.35" width="6.9" height="2.5" class="b"/>
<rect x="355" y="119.35" width="1.2" height="2.5" class="b"/>
<rect x="356.9" y="119.35" width="2.9" height="2.5" class="b"/>
<rect x="365.3" y="119.35" width="1.1" height="2.5" class="b"/>
<rect x="369.3" y="119.35" width="3.6" height="2.5" class="b"/>
<line x1="341.6" y1="125.04" x2="373.2" y2="125.04" class="g"/>
<rect x="341.6" y="123.79" width="1.9" height="2.5" class="y"/>
<rect x="343.5" y="123.79" width="3.5" height="2.5" class="b"/>
<rect x="363" y="123.79" width="8.2" height="2.5" class="b"/>
<rect x="371.2" y="123.79" width="2" height="2.5" class="y"/>
<line x1="341.6" y1="129.47" x2="366.1" y2="129.47" class="g"/>
<rect x="341.6" y="128.22" width="3.7" height="2.5" class="b"/>
<rect x="358.8" y="128.22" width="7.3" height="2.5" class="b"/>
<line x1="341.6" y1="133.91" x2="367.1" y2="133.91" class="g"/>
<rect x="341.6" y="132.66" width="5.4" height="2.5" class="b"/>
<rect x="359.1" y="132.66" width="8" height="2.5" class="b"/>
<line x1="341.6" y1="138.35" x2="351.8" y2="138.35" class="g"/>
<rect x="341.6" y="137.1" width="2.2" height="2.5" class="b"/>
<rect x="345" y="137.1" width="6.8" height="2.5" class="b"/>
<rect x="341.6" y="141.54" width="8.3" height="2.5" class="b"/>
<rect x="341.6" y="145.98" width="8" height="2.5" class="b"/>
<line x1="341.6" y1="151.66" x2="394" y2="151.66" class="g"/>
<rect x="341.6" y="150.41" width="1" height="2.5" class="b"/>
<rect x="356.2" y="150.41" width="1.4" height="2.5" class="b"/>
<rect x="371.9" y="150.41" width="1.7" height="2.5" class="b"/>
<rect x="378" y="150.41" width="2.9" height="2.5" class="b"/>
<rect x="382.4" y="150.41" width="1" height="2.5" class="b"/>
<rect x="386.7" y="150.41" width="2.2" height="2.5" class="b"/>
<rect x="389.9" y="150.41" width="4.1" height="2.5" class="b"/>
<line x1="341.6" y1="156.1" x2="360.1" y2="156.1" class="g"/>
<rect x="341.6" y="154.85" width="1" height="2.5" class="b"/>
<rect x="344.5" y="154.85" width="4.4" height="2.5" class="b"/>
<rect x="354" y="154.85" width="6.1" height="2.5" class="b"/>
<line x1="341.6" y1="160.54" x2="403.5" y2="160.54" class="g"/>
<rect x="341.6" y="159.29" width="1" height="2.5" class="b"/>
<rect x="343.1" y="159.29" width="7.3" height="2.5" class="b"/>
<rect x="353" y="159.29" width="1" height="2.5" class="b"/>
<rect x="372.9" y="159.29" width="1" height="2.5" class="b"/>
<rect x="386" y="159.29" width="3.9" height="2.5" class="b"/>
<rect x="397.6" y="159.29" width="5.9" height="2.5" class="b"/>
<line x1="341.6" y1="164.98" x2="385.3" y2="164.98" class="g"/>
<rect x="341.6" y="163.73" width="1.2" height="2.5" class="b"/>
<rect x="346.7" y="163.73" width="5.8" height="2.5" class="b"/>
<rect x="357.6" y="163.73" width="7.3" height="2.5" class="b"/>
<rect x="364.75" y="163.73" width="1" height="2.5" class="y"/>
<rect x="383.1" y="163.73" width="2.2" height="2.5" class="y"/>
<line x1="341.6" y1="169.42" x2="356.6" y2="169.42" class="g"/>
<rect x="341.6" y="168.17" width="3.4" height="2.5" class="y"/>
<rect x="349.9" y="168.17" width="5.6" height="2.5" class="b"/>
<rect x="355.5" y="168.17" width="1.1" height="2.5" class="y"/>
<rect x="341.6" y="172.6" width="7.3" height="2.5" class="b"/>
<rect x="341.6" y="177.04" width="9.5" height="2.5" class="b"/>
<line x1="341.6" y1="182.73" x2="356.5" y2="182.73" class="g"/>
<rect x="341.6" y="181.48" width="1.2" height="2.5" class="b"/>
<rect x="344.5" y="181.48" width="12" height="2.5" class="b"/>
<line x1="341.6" y1="187.17" x2="353.3" y2="187.17" class="g"/>
<rect x="341.6" y="185.92" width="1" height="2.5" class="y"/>
<rect x="342.4" y="185.92" width="9.7" height="2.5" class="b"/>
<rect x="352.1" y="185.92" width="1.2" height="2.5" class="y"/>
<line x1="341.6" y1="191.61" x2="353.7" y2="191.61" class="g"/>
<rect x="341.6" y="190.36" width="1" height="2.5" class="y"/>
<rect x="342.4" y="190.36" width="9.7" height="2.5" class="b"/>
<rect x="352.1" y="190.36" width="1.6" height="2.5" class="y"/>
<line x1="341.6" y1="196.04" x2="358.1" y2="196.04" class="g"/>
<rect x="341.6" y="194.79" width="1" height="2.5" class="y"/>
<rect x="342.2" y="194.79" width="2.3" height="2.5" class="b"/>
<rect x="346.3" y="194.79" width="7.4" height="2.5" class="b"/>
<rect x="354.4" y="194.79" width="3.7" height="2.5" class="y"/>
<line x1="341.6" y1="200.48" x2="349.3" y2="200.48" class="g"/>
<rect x="341.6" y="199.23" width="1" height="2.5" class="b"/>
<rect x="344.5" y="199.23" width="4.8" height="2.5" class="b"/>
<line x1="341.6" y1="204.92" x2="351.4" y2="204.92" class="g"/>
<rect x="341.6" y="203.67" width="1.1" height="2.5" class="y"/>
<rect x="342.6" y="203.67" width="1" height="2.5" class="b"/>
<rect x="345" y="203.67" width="4.6" height="2.5" class="b"/>
<rect x="349.6" y="203.67" width="1.8" height="2.5" class="y"/>
<line x1="341.6" y1="209.36" x2="349.6" y2="209.36" class="g"/>
<rect x="341.6" y="208.11" width="1" height="2.5" class="b"/>
<rect x="344.5" y="208.11" width="5.1" height="2.5" class="b"/>
<line x1="341.6" y1="213.8" x2="371.5" y2="213.8" class="g"/>
<rect x="341.6" y="212.55" width="1" height="2.5" class="b"/>
<rect x="346.7" y="212.55" width="3.7" height="2.5" class="b"/>
<rect x="359.1" y="212.55" width="3.6" height="2.5" class="b"/>
<rect x="364.2" y="212.55" width="5.1" height="2.5" class="b"/>
<rect x="369.3" y="212.55" width="2.2" height="2.5" class="y"/>
<line x1="342" y1="218.23" x2="353.7" y2="218.23" class="g"/>
<rect x="342" y="216.98" width="1.5" height="2.5" class="b"/>
<rect x="346.7" y="216.98" width="7" height="2.5" class="b"/>
<line x1="341.6" y1="222.67" x2="373.6" y2="222.67" class="g"/>
<rect x="341.6" y="221.42" width="1.5" height="2.5" class="y"/>
<rect x="343.1" y="221.42" width="3.6" height="2.5" class="b"/>
<rect x="361" y="221.42" width="8.7" height="2.5" class="b"/>
<rect x="371.2" y="221.42" width="2.4" height="2.5" class="y"/>
<line x1="341.6" y1="227.11" x2="366.4" y2="227.11" class="g"/>
<rect x="341.6" y="225.86" width="1.5" height="2.5" class="y"/>
<rect x="343.1" y="225.86" width="2.2" height="2.5" class="b"/>
<rect x="355.2" y="225.86" width="7.8" height="2.5" class="b"/>
<rect x="363" y="225.86" width="3.4" height="2.5" class="y"/>
<line x1="341.6" y1="231.55" x2="372.9" y2="231.55" class="g"/>
<rect x="346.7" y="230.3" width="5.8" height="2.5" class="b"/>
<rect x="361" y="230.3" width="7.8" height="2.5" class="b"/>
<rect x="369.7" y="230.3" width="3.2" height="2.5" class="y"/>
<line x1="342" y1="235.99" x2="403.7" y2="235.99" class="g"/>
<rect x="342" y="234.74" width="3" height="2.5" class="b"/>
<rect x="346.7" y="234.74" width="1.5" height="2.5" class="b"/>
<rect x="351.1" y="234.74" width="9.7" height="2.5" class="b"/>
<rect x="395.9" y="234.74" width="2.9" height="2.5" class="b"/>
<rect x="402" y="234.74" width="1.7" height="2.5" class="b"/>
<rect x="342.4" y="239.17" width="8.4" height="2.5" class="b"/>
<rect x="341.6" y="243.61" width="7.7" height="2.5" class="b"/>
<rect x="341.6" y="248.05" width="7.3" height="2.5" class="b"/>
<rect x="341.6" y="252.49" width="9.2" height="2.5" class="b"/>
<line x1="341.6" y1="258.18" x2="353.7" y2="258.18" class="g"/>
<rect x="341.6" y="256.93" width="6.3" height="2.5" class="b"/>
<rect x="349.3" y="256.93" width="4.4" height="2.5" class="b"/>
<rect x="341.6" y="261.36" width="7.6" height="2.5" class="b"/>
<rect x="341.6" y="265.8" width="9.2" height="2.5" class="b"/>
<rect x="341.6" y="270.24" width="4" height="2.5" class="b"/>
<line x1="341.6" y1="275.93" x2="358.4" y2="275.93" class="g"/>
<rect x="341.6" y="274.68" width="6.9" height="2.5" class="y"/>
<rect x="348.5" y="274.68" width="6.7" height="2.5" class="b"/>
<rect x="355.2" y="274.68" width="3.2" height="2.5" class="y"/>
<rect x="341.6" y="279.12" width="8.5" height="2.5" class="b"/>
<line x1="341.6" y1="284.8" x2="354.7" y2="284.8" class="g"/>
<rect x="341.6" y="283.55" width="9.8" height="2.5" class="b"/>
<rect x="351.4" y="283.55" width="3.3" height="2.5" class="y"/>
<rect x="341.6" y="287.99" width="8.8" height="2.5" class="b"/>
<line x1="341.6" y1="293.68" x2="355" y2="293.68" class="g"/>
<rect x="341.6" y="292.43" width="10.9" height="2.5" class="b"/>
<rect x="352.5" y="292.43" width="2.5" height="2.5" class="y"/>
<rect x="341.6" y="296.87" width="10.2" height="2.5" class="b"/>
<rect x="341.6" y="301.31" width="9.9" height="2.5" class="b"/>
<rect x="341.6" y="305.74" width="9.9" height="2.5" class="b"/>
<rect x="341.6" y="310.18" width="6.3" height="2.5" class="b"/>
<line x1="341.6" y1="315.87" x2="533.6" y2="315.87" class="g"/>
<rect x="341.6" y="314.62" width="1.5" height="2.5" class="b"/>
<rect x="346.4" y="314.62" width="9.3" height="2.5" class="b"/>
<rect x="356.9" y="314.62" width="3.6" height="2.5" class="b"/>
<rect x="361.3" y="314.62" width="2.2" height="2.5" class="b"/>
<rect x="364.9" y="314.62" width="3.6" height="2.5" class="b"/>
<rect x="369.6" y="314.62" width="3.7" height="2.5" class="b"/>
<rect x="374.4" y="314.62" width="2.6" height="2.5" class="b"/>
<rect x="381.9" y="314.62" width="5.6" height="2.5" class="b"/>
<rect x="389.9" y="314.62" width="3.4" height="2.5" class="b"/>
<rect x="395.5" y="314.62" width="1" height="2.5" class="b"/>
<rect x="408.9" y="314.62" width="9.9" height="2.5" class="b"/>
<rect x="432.8" y="314.62" width="4.5" height="2.5" class="b"/>
<rect x="451.5" y="314.62" width="2.6" height="2.5" class="b"/>
<rect x="465.8" y="314.62" width="1.7" height="2.5" class="b"/>
<rect x="477" y="314.62" width="4.2" height="2.5" class="b"/>
<rect x="488.8" y="314.62" width="1.2" height="2.5" class="b"/>
<rect x="493.9" y="314.62" width="1.3" height="2.5" class="b"/>
<rect x="501.2" y="314.62" width="2.9" height="2.5" class="b"/>
<rect x="509.1" y="314.62" width="1.4" height="2.5" class="b"/>
<rect x="513" y="314.62" width="5" height="2.5" class="b"/>
<rect x="522.6" y="314.62" width="4.3" height="2.5" class="b"/>
<rect x="529.8" y="314.62" width="3.8" height="2.5" class="b"/>
<line x1="341.6" y1="320.31" x2="358.4" y2="320.31" class="g"/>
<rect x="347.5" y="319.06" width="10.9" height="2.5" class="b"/>
<rect x="341.6" y="323.5" width="9.9" height="2.5" class="b"/>
<rect x="341.6" y="327.93" width="9.5" height="2.5" class="b"/>
<rect x="341.6" y="332.37" width="11.2" height="2.5" class="b"/>
<line x1="341.6" y1="338.06" x2="361" y2="338.06" class="g"/>
<rect x="341.6" y="336.81" width="2.2" height="2.5" class="y"/>
<rect x="346" y="336.81" width="1.9" height="2.5" class="y"/>
<rect x="347.9" y="336.81" width="10.2" height="2.5" class="b"/>
<rect x="358.1" y="336.81" width="2.9" height="2.5" class="y"/>
<rect x="341.6" y="341.25" width="6.6" height="2.5" class="b"/>
<rect x="341.6" y="345.69" width="9.2" height="2.5" class="b"/>
<rect x="341.6" y="350.12" width="10.2" height="2.5" class="b"/>
<line x1="341.6" y1="355.81" x2="399.8" y2="355.81" class="g"/>
<rect x="341.6" y="354.56" width="1.9" height="2.5" class="b"/>
<rect x="357.9" y="354.56" width="5.1" height="2.5" class="b"/>
<rect x="375.1" y="354.56" width="1" height="2.5" class="b"/>
<rect x="382.8" y="354.56" width="1" height="2.5" class="b"/>
<rect x="389.9" y="354.56" width="1.2" height="2.5" class="b"/>
<rect x="392.5" y="354.56" width="7.3" height="2.5" class="b"/>
<line x1="68.1" y1="262.8" x2="250.7" y2="262.8" class="g"/>
<rect x="68.1" y="261.55" width="3.2" height="2.5" class="b"/>
<rect x="71.9" y="261.55" width="1" height="2.5" class="b"/>
<rect x="73.4" y="261.55" width="1.5" height="2.5" class="b"/>
<rect x="90.2" y="261.55" width="3.6" height="2.5" class="b"/>
<rect x="101.1" y="261.55" width="1" height="2.5" class="b"/>
<rect x="105.35" y="261.55" width="1" height="2.5" class="b"/>
<rect x="106.9" y="261.55" width="3.4" height="2.5" class="b"/>
<rect x="124.8" y="261.55" width="1.5" height="2.5" class="b"/>
<rect x="127.7" y="261.55" width="3.5" height="2.5" class="b"/>
<rect x="134.5" y="261.55" width="1.1" height="2.5" class="b"/>
<rect x="156" y="261.55" width="1.5" height="2.5" class="f"/>
<rect x="188.7" y="261.55" width="2.2" height="2.5" class="b"/>
<rect x="192.7" y="261.55" width="6.2" height="2.5" class="b"/>
<rect x="200" y="261.55" width="1.1" height="2.5" class="b"/>
<rect x="233.1" y="261.55" width="1" height="2.5" class="b"/>
<rect x="238.8" y="261.55" width="2" height="2.5" class="b"/>
<rect x="241.4" y="261.55" width="2.5" height="2.5" class="b"/>
<rect x="245.8" y="261.55" width="4.9" height="2.5" class="b"/>
<line x1="68.1" y1="267.23" x2="111.3" y2="267.23" class="g"/>
<rect x="68.1" y="265.98" width="2.4" height="2.5" class="b"/>
<rect x="78.1" y="265.98" width="7" height="2.5" class="b"/>
<rect x="86.1" y="265.98" width="1.5" height="2.5" class="b"/>
<rect x="89.9" y="265.98" width="1.4" height="2.5" class="b"/>
<rect x="95.7" y="265.98" width="1" height="2.5" class="b"/>
<rect x="101.1" y="265.98" width="1" height="2.5" class="b"/>
<rect x="104" y="265.98" width="1.5" height="2.5" class="b"/>
<rect x="106.2" y="265.98" width="5.1" height="2.5" class="b"/>
<line x1="68.1" y1="271.67" x2="113.2" y2="271.67" class="g"/>
<rect x="68.1" y="270.42" width="1.7" height="2.5" class="b"/>
<rect x="80.7" y="270.42" width="3.7" height="2.5" class="b"/>
<rect x="85.5" y="270.42" width="1.5" height="2.5" class="b"/>
<rect x="102.5" y="270.42" width="1.5" height="2.5" class="b"/>
<rect x="104.7" y="270.42" width="2.9" height="2.5" class="b"/>
<rect x="109.1" y="270.42" width="1.4" height="2.5" class="b"/>
<rect x="111.3" y="270.42" width="1.9" height="2.5" class="b"/>
<line x1="68.1" y1="276.1" x2="103.3" y2="276.1" class="g"/>
<rect x="68.1" y="274.85" width="5.8" height="2.5" class="b"/>
<rect x="75.3" y="274.85" width="1.5" height="2.5" class="b"/>
<rect x="94.5" y="274.85" width="5.1" height="2.5" class="b"/>
<rect x="100.4" y="274.85" width="2.9" height="2.5" class="b"/>
<line x1="68.1" y1="280.53" x2="92.1" y2="280.53" class="g"/>
<rect x="68.1" y="279.28" width="4.3" height="2.5" class="b"/>
<rect x="80.7" y="279.28" width="1.9" height="2.5" class="b"/>
<rect x="83.6" y="279.28" width="1.9" height="2.5" class="b"/>
<rect x="86.2" y="279.28" width="1.4" height="2.5" class="b"/>
<rect x="88.3" y="279.28" width="1.6" height="2.5" class="b"/>
<rect x="90.9" y="279.28" width="1.2" height="2.5" class="b"/>
<line x1="68.1" y1="284.97" x2="142.6" y2="284.97" class="g"/>
<rect x="68.1" y="283.72" width="1" height="2.5" class="y"/>
<rect x="69.1" y="283.72" width="2.9" height="2.5" class="b"/>
<rect x="80" y="283.72" width="1.5" height="2.5" class="b"/>
<rect x="91.6" y="283.72" width="1.2" height="2.5" class="b"/>
<rect x="111.3" y="283.72" width="1.3" height="2.5" class="b"/>
<rect x="113.25" y="283.72" width="1" height="2.5" class="b"/>
<rect x="116.4" y="283.72" width="1.7" height="2.5" class="b"/>
<rect x="119" y="283.72" width="6.1" height="2.5" class="b"/>
<rect x="125.1" y="283.72" width="1.2" height="2.5" class="y"/>
<rect x="138.9" y="283.72" width="3.7" height="2.5" class="y"/>
<line x1="68.1" y1="289.4" x2="101.1" y2="289.4" class="g"/>
<rect x="68.1" y="288.15" width="2.2" height="2.5" class="b"/>
<rect x="70.9" y="288.15" width="1.5" height="2.5" class="b"/>
<rect x="83.3" y="288.15" width="1.5" height="2.5" class="b"/>
<rect x="86.1" y="288.15" width="1.9" height="2.5" class="b"/>
<rect x="89.9" y="288.15" width="1" height="2.5" class="b"/>
<rect x="94.5" y="288.15" width="6.6" height="2.5" class="b"/>
<line x1="68.1" y1="293.83" x2="90.2" y2="293.83" class="g"/>
<rect x="68.1" y="292.58" width="2.4" height="2.5" class="b"/>
<rect x="72" y="292.58" width="1.9" height="2.5" class="b"/>
<rect x="76.8" y="292.58" width="1" height="2.5" class="b"/>
<rect x="78.4" y="292.58" width="1" height="2.5" class="b"/>
<rect x="80" y="292.58" width="1.7" height="2.5" class="b"/>
<rect x="83.2" y="292.58" width="7" height="2.5" class="b"/>
<line x1="68.1" y1="298.26" x2="153.8" y2="298.26" class="g"/>
<rect x="68.1" y="297.01" width="2.4" height="2.5" class="b"/>
<rect x="78.8" y="297.01" width="2.7" height="2.5" class="b"/>
<rect x="89" y="297.01" width="1.9" height="2.5" class="b"/>
<rect x="92.4" y="297.01" width="5.3" height="2.5" class="b"/>
<rect x="105.7" y="297.01" width="1.2" height="2.5" class="b"/>
<rect x="113" y="297.01" width="1.2" height="2.5" class="b"/>
<rect x="120.7" y="297.01" width="1" height="2.5" class="b"/>
<rect x="131.15" y="297.01" width="1" height="2.5" class="b"/>
<rect x="145.1" y="297.01" width="6.5" height="2.5" class="b"/>
<rect x="151.6" y="297.01" width="2.2" height="2.5" class="y"/>
<line x1="68.1" y1="302.7" x2="136.7" y2="302.7" class="g"/>
<rect x="68.1" y="301.45" width="3.9" height="2.5" class="b"/>
<rect x="83.2" y="301.45" width="1.5" height="2.5" class="b"/>
<rect x="86.5" y="301.45" width="3" height="2.5" class="b"/>
<rect x="90.9" y="301.45" width="2.9" height="2.5" class="b"/>
<rect x="95.3" y="301.45" width="1.4" height="2.5" class="b"/>
<rect x="102.05" y="301.45" width="1" height="2.5" class="b"/>
<rect x="108.4" y="301.45" width="1.4" height="2.5" class="b"/>
<rect x="110.5" y="301.45" width="1.5" height="2.5" class="b"/>
<rect x="129.9" y="301.45" width="6.8" height="2.5" class="b"/>
<line x1="68.1" y1="307.13" x2="124.4" y2="307.13" class="g"/>
<rect x="68.1" y="305.88" width="1" height="2.5" class="b"/>
<rect x="77.8" y="305.88" width="1.5" height="2.5" class="b"/>
<rect x="84.4" y="305.88" width="1.4" height="2.5" class="b"/>
<rect x="88" y="305.88" width="3.6" height="2.5" class="b"/>
<rect x="93.1" y="305.88" width="2.2" height="2.5" class="b"/>
<rect x="97.65" y="305.88" width="1" height="2.5" class="b"/>
<rect x="100.1" y="305.88" width="2.9" height="2.5" class="b"/>
<rect x="105.2" y="305.88" width="1" height="2.5" class="b"/>
<rect x="117.1" y="305.88" width="7.3" height="2.5" class="b"/>
<line x1="68.1" y1="311.56" x2="92.4" y2="311.56" class="g"/>
<rect x="68.1" y="310.31" width="3.9" height="2.5" class="b"/>
<rect x="76.8" y="310.31" width="1.3" height="2.5" class="b"/>
<rect x="80" y="310.31" width="2.9" height="2.5" class="b"/>
<rect x="84.4" y="310.31" width="2.1" height="2.5" class="b"/>
<rect x="87.3" y="310.31" width="5.1" height="2.5" class="b"/>
<line x1="68.1" y1="316" x2="113.2" y2="316" class="g"/>
<rect x="68.1" y="314.75" width="3.5" height="2.5" class="y"/>
<rect x="71.6" y="314.75" width="4.3" height="2.5" class="b"/>
<rect x="77.1" y="314.75" width="2.2" height="2.5" class="b"/>
<rect x="81.5" y="314.75" width="1.7" height="2.5" class="b"/>
<rect x="88.7" y="314.75" width="2.2" height="2.5" class="b"/>
<rect x="92.4" y="314.75" width="1.4" height="2.5" class="b"/>
<rect x="98.2" y="314.75" width="1.4" height="2.5" class="b"/>
<rect x="107.3" y="314.75" width="2.1" height="2.5" class="b"/>
<rect x="109.4" y="314.75" width="3.8" height="2.5" class="y"/>
<line x1="68.1" y1="320.43" x2="119" y2="320.43" class="g"/>
<rect x="68.1" y="319.18" width="3.2" height="2.5" class="y"/>
<rect x="71.3" y="319.18" width="6.8" height="2.5" class="b"/>
<rect x="79.3" y="319.18" width="1.4" height="2.5" class="b"/>
<rect x="82.2" y="319.18" width="3.6" height="2.5" class="b"/>
<rect x="90.9" y="319.18" width="1.5" height="2.5" class="b"/>
<rect x="93.1" y="319.18" width="2.2" height="2.5" class="b"/>
<rect x="101.1" y="319.18" width="1" height="2.5" class="b"/>
<rect x="112" y="319.18" width="2.9" height="2.5" class="b"/>
<rect x="114.9" y="319.18" width="4.1" height="2.5" class="y"/>
<line x1="68.1" y1="324.86" x2="121.9" y2="324.86" class="g"/>
<rect x="68.1" y="323.61" width="4.6" height="2.5" class="y"/>
<rect x="72.7" y="323.61" width="5.8" height="2.5" class="b"/>
<rect x="79.7" y="323.61" width="3.9" height="2.5" class="b"/>
<rect x="85.8" y="323.61" width="2.2" height="2.5" class="b"/>
<rect x="91.3" y="323.61" width="1.8" height="2.5" class="b"/>
<rect x="94.3" y="323.61" width="1" height="2.5" class="b"/>
<rect x="96" y="323.61" width="1.2" height="2.5" class="b"/>
<rect x="101.1" y="323.61" width="1.9" height="2.5" class="b"/>
<rect x="114.2" y="323.61" width="2.9" height="2.5" class="b"/>
<rect x="117.1" y="323.61" width="4.8" height="2.5" class="y"/>
<line x1="68.1" y1="329.3" x2="127.7" y2="329.3" class="g"/>
<rect x="68.1" y="328.05" width="1" height="2.5" class="b"/>
<rect x="77.1" y="328.05" width="3.6" height="2.5" class="b"/>
<rect x="82.2" y="328.05" width="5.1" height="2.5" class="b"/>
<rect x="88" y="328.05" width="8" height="2.5" class="b"/>
<rect x="98.9" y="328.05" width="1.5" height="2.5" class="b"/>
<rect x="101.5" y="328.05" width="1" height="2.5" class="b"/>
<rect x="104.7" y="328.05" width="2.2" height="2.5" class="b"/>
<rect x="108.1" y="328.05" width="1.4" height="2.5" class="b"/>
<rect x="110.3" y="328.05" width="1.2" height="2.5" class="b"/>
<rect x="112.3" y="328.05" width="1.6" height="2.5" class="b"/>
<rect x="114.6" y="328.05" width="2.5" height="2.5" class="b"/>
<rect x="118.1" y="328.05" width="3.4" height="2.5" class="b"/>
<rect x="121.5" y="328.05" width="6.2" height="2.5" class="y"/>
<line x1="68.1" y1="333.73" x2="85.5" y2="333.73" class="g"/>
<rect x="68.1" y="332.48" width="2" height="2.5" class="y"/>
<rect x="70.1" y="332.48" width="12.1" height="2.5" class="b"/>
<rect x="82.2" y="332.48" width="3.3" height="2.5" class="y"/>
<line x1="68.1" y1="338.16" x2="85.1" y2="338.16" class="g"/>
<rect x="68.1" y="336.91" width="1" height="2.5" class="y"/>
<rect x="69.1" y="336.91" width="12.6" height="2.5" class="b"/>
<rect x="81.7" y="336.91" width="3.4" height="2.5" class="y"/>
<line x1="68.1" y1="342.59" x2="84.5" y2="342.59" class="g"/>
<rect x="68.1" y="341.34" width="13.1" height="2.5" class="b"/>
<rect x="81.2" y="341.34" width="3.3" height="2.5" class="y"/>
<rect x="68.1" y="345.78" width="11" height="2.5" class="b"/>
<line x1="68.1" y1="351.46" x2="144.5" y2="351.46" class="g"/>
<rect x="68.1" y="350.21" width="2.8" height="2.5" class="y"/>
<rect x="90.2" y="350.21" width="1.3" height="2.5" class="f"/>
<rect x="109" y="350.21" width="1.3" height="2.5" class="b"/>
<rect x="113.1" y="350.21" width="1.3" height="2.5" class="b"/>
<rect x="118.3" y="350.21" width="1.8" height="2.5" class="b"/>
<rect x="136" y="350.21" width="2" height="2.5" class="b"/>
<rect x="139" y="350.21" width="1.4" height="2.5" class="b"/>
<rect x="140.4" y="350.21" width="4.1" height="2.5" class="y"/>
<line x1="68.1" y1="355.89" x2="107.9" y2="355.89" class="g"/>
<rect x="68.1" y="354.64" width="2" height="2.5" class="b"/>
<rect x="70.9" y="354.64" width="2.1" height="2.5" class="b"/>
<rect x="76" y="354.64" width="1.4" height="2.5" class="b"/>
<rect x="79" y="354.64" width="2.7" height="2.5" class="b"/>
<rect x="95.1" y="354.64" width="12.8" height="2.5" class="b"/>
<path d="M66 223.4H263" class="ax"/>
<path d="M66 223.4v-1.1 M94.09 223.4v-1.1 M122.18 223.4v-1.1 M150.27 223.4v-1.1 M178.36 223.4v-1.1 M206.45 223.4v-1.1 M234.54 223.4v-1.1 M262.63 223.4v-1.1" class="ax"/>
<g class="tk">
<text transform="translate(66 229.17) scale(1 1.1) rotate(0.3)">0</text>
<text transform="translate(94.09 229.17) scale(1 1.1) rotate(0.3)">1000</text>
<text transform="translate(122.18 229.17) scale(1 1.1) rotate(0.3)">2000</text>
<text transform="translate(150.27 229.17) scale(1 1.1) rotate(0.3)">3000</text>
<text transform="translate(178.36 229.17) scale(1 1.1) rotate(0.3)">4000</text>
<text transform="translate(206.45 229.17) scale(1 1.1) rotate(0.3)">5000</text>
<text transform="translate(234.54 229.17) scale(1 1.1) rotate(0.3)">6000</text>
<text transform="translate(262.63 229.17) scale(1 1.1) rotate(0.3)">7000</text>
</g>
<text transform="translate(62.9 224.5) scale(1 1.1) rotate(0.3)" class="pr">5'</text>
<text transform="translate(262.2 223.9) scale(1 1.1) rotate(0.3)" class="pr">3'</text>
<path d="M342 360.5H540" class="ax"/>
<path d="M342 360.5v-1.1 M361.64 360.5v-1.1 M381.28 360.5v-1.1 M400.92 360.5v-1.1 M420.56 360.5v-1.1 M440.2 360.5v-1.1 M459.84 360.5v-1.1 M479.48 360.5v-1.1 M499.12 360.5v-1.1 M518.76 360.5v-1.1 M538.4 360.5v-1.1" class="ax"/>
<g class="tk">
<text transform="translate(342 366.27) scale(1 1.1) rotate(0.3)">0</text>
<text transform="translate(361.64 366.27) scale(1 1.1) rotate(0.3)">2000</text>
<text transform="translate(381.28 366.27) scale(1 1.1) rotate(0.3)">4000</text>
<text transform="translate(400.92 366.27) scale(1 1.1) rotate(0.3)">6000</text>
<text transform="translate(420.56 366.27) scale(1 1.1) rotate(0.3)">8000</text>
<text transform="translate(440.2 366.27) scale(1 1.1) rotate(0.3)">10000</text>
<text transform="translate(459.84 366.27) scale(1 1.1) rotate(0.3)">12000</text>
<text transform="translate(479.48 366.27) scale(1 1.1) rotate(0.3)">14000</text>
<text transform="translate(499.12 366.27) scale(1 1.1) rotate(0.3)">16000</text>
<text transform="translate(518.76 366.27) scale(1 1.1) rotate(0.3)">18000</text>
<text transform="translate(538.4 366.27) scale(1 1.1) rotate(0.3)">20000</text>
</g>
<text transform="translate(338.1 361.6) scale(1 1.1) rotate(0.3)" class="pr">5'</text>
<text transform="translate(540.2 361) scale(1 1.1) rotate(0.3)" class="pr">3'</text>
<path d="M68 360.4H261" class="ax"/>
<path d="M68 360.4v-1.1 M99.95 360.4v-1.1 M131.9 360.4v-1.1 M163.85 360.4v-1.1 M195.8 360.4v-1.1 M227.75 360.4v-1.1 M259.7 360.4v-1.1" class="ax"/>
<g class="tk">
<text transform="translate(68 366.17) scale(1 1.1) rotate(0.3)">0</text>
<text transform="translate(99.95 366.17) scale(1 1.1) rotate(0.3)">3000</text>
<text transform="translate(131.9 366.17) scale(1 1.1) rotate(0.3)">6000</text>
<text transform="translate(163.85 366.17) scale(1 1.1) rotate(0.3)">9000</text>
<text transform="translate(195.8 366.17) scale(1 1.1) rotate(0.3)">12000</text>
<text transform="translate(227.75 366.17) scale(1 1.1) rotate(0.3)">15000</text>
<text transform="translate(259.7 366.17) scale(1 1.1) rotate(0.3)">18000</text>
</g>
<text transform="translate(64.7 361.5) scale(1 1.1) rotate(0.3)" class="pr">5'</text>
<text transform="translate(259.9 360.9) scale(1 1.1) rotate(0.3)" class="pr">3'</text>
<rect x="246" y="25.1" width="10.4" height="4.4" class="b"/>
<rect x="246" y="30.6" width="10.4" height="4.4" class="y"/>
<text transform="translate(257.3 29.03) scale(1 1.1) rotate(0.3)" class="lg">CDS</text>
<text transform="translate(257.3 34.53) scale(1 1.1) rotate(0.3)" class="lg">UTR</text>
<rect x="522.6" y="25.5" width="11.4" height="4.8" class="b"/>
<rect x="522.6" y="31.6" width="11.4" height="4.8" class="y"/>
<text transform="translate(535.1 29.63) scale(1 1.1) rotate(0.3)" class="lg">CDS</text>
<text transform="translate(535.1 35.73) scale(1 1.1) rotate(0.3)" class="lg">UTR</text>
<rect x="243" y="267.8" width="11" height="4.2" class="b"/>
<rect x="243" y="273.2" width="11" height="4.2" class="y"/>
<text transform="translate(255.1 271.63) scale(1 1.1) rotate(0.3)" class="lg">CDS</text>
<text transform="translate(255.1 277.03) scale(1 1.1) rotate(0.3)" class="lg">UTR</text>
</svg></body></html>
